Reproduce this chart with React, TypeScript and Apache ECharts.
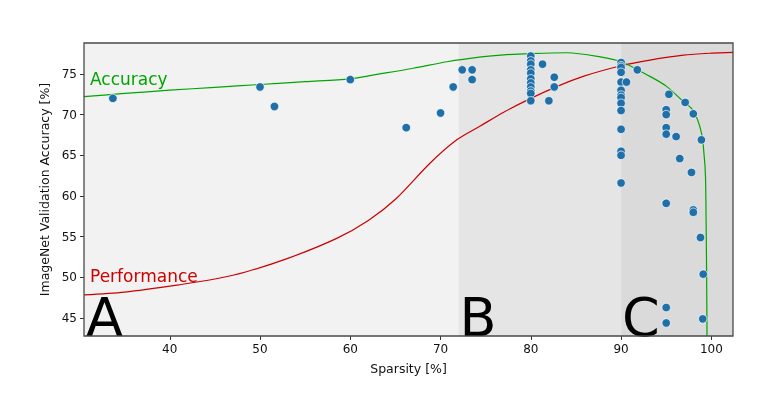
import React, { useEffect, useRef } from "react";
import * as echarts from "echarts";

const X_MIN = 30.5;
const X_MAX = 102.4;
const Y_MIN = 42.8;
const Y_MAX = 78.8;
const xTicks = [40, 50, 60, 70, 80, 90, 100];
const yTicks = [45, 50, 55, 60, 65, 70, 75];

const regionBounds = [30.5, 72, 90, 102.4];
const regionNames = ["A", "B", "C"];
const regionColors = ["#f2f2f2", "#e5e5e5", "#dadada"];

const pointX = [
  33.7, 50.0, 51.6, 60.0, 66.2, 70.0, 71.4, 72.4, 73.5, 73.5,
  80, 80, 80, 80, 80, 80, 80, 80, 80, 80, 80,
  81.3, 82.6, 82.6, 82.0,
  90, 90, 90, 90, 90, 90, 90, 90, 90, 90, 90, 90, 90, 90,
  90.6, 91.8, 95.3,
  95, 95, 95, 95, 95, 95, 95,
  96.1, 97.1, 98.0, 98.9, 96.5, 97.8, 98.0, 98.0, 98.8, 99.1, 99.05,
];
const pointY = [
  72.0, 73.4, 71.0, 74.3, 68.4, 70.2, 73.4, 75.5, 75.5, 74.3,
  77.2, 76.6, 76.2, 75.5, 75.1, 74.4, 73.9, 73.4, 72.9, 72.6, 71.7,
  76.2, 74.6, 73.4, 71.7,
  76.4, 76.0, 75.8, 75.2, 74.0, 73.0, 72.4, 72.1, 71.4, 70.5, 68.2, 65.5, 65.0, 61.6,
  74.0, 75.5, 72.5,
  70.6, 70.0, 68.4, 67.6, 59.1, 46.3, 44.4,
  67.3, 71.5, 70.1, 66.9, 64.6, 62.9, 58.3, 58.0, 54.9, 50.4, 44.9,
];

const accCurveX = [30.5, 35, 40, 45, 50, 55, 60, 63.3, 67, 70.7, 74.5, 77, 80, 84, 87.7, 90, 93.2, 95, 96.9, 98.0, 98.9, 99.2, 99.35, 99.42, 99.48, 99.52];
const accCurveY = [72.2, 72.6, 73.0, 73.35, 73.7, 74.05, 74.4, 75.0, 75.7, 76.5, 77.1, 77.35, 77.5, 77.6, 77.1, 76.5, 74.7, 73.5, 71.6, 70.5, 67.8, 65.0, 62.5, 57.0, 50.0, 42.8];

const perfCurveX = [30.5, 35, 41.1, 45, 48.5, 53, 58.5, 62, 65.1, 68.8, 71.8, 74.4, 77, 80, 83, 85.8, 90, 93.2, 96.9, 100, 102.4];
const perfCurveY = [47.85, 48.2, 49.1, 49.8, 50.7, 52.3, 54.8, 57.0, 59.7, 64.0, 66.9, 68.6, 70.3, 72.0, 73.5, 74.7, 76.0, 76.7, 77.3, 77.55, 77.65];

const FONT = "DejaVu Sans";

export default function App() {
  const ref = useRef<HTMLDivElement>(null);
  useEffect(() => {
    document.body.style.margin = "0";
    const chart = echarts.init(ref.current!, null, { renderer: "svg" });
    const gridL = 84, gridT = 43, gridW = 649, gridH = 293;
    const points = pointX.map((x, i) => [x, pointY[i]]);
    const acc = accCurveX.map((x, i) => [x, accCurveY[i]]);
    const perf = perfCurveX.map((x, i) => [x, perfCurveY[i]]);
    const areas = regionNames.map((n, i) => [
      { xAxis: regionBounds[i], itemStyle: { color: regionColors[i] } },
      { xAxis: regionBounds[i + 1] },
    ]);
    const xToPx = (v: number) => gridL + ((v - X_MIN) / (X_MAX - X_MIN)) * gridW;
    chart.setOption({
      animation: false,
      textStyle: { fontFamily: FONT },
      grid: { left: gridL, top: gridT, width: gridW, height: gridH },
      xAxis: {
        type: "value",
        min: X_MIN,
        max: X_MAX,
        name: "Sparsity [%]",
        nameLocation: "middle",
        nameGap: 26,
        nameTextStyle: { fontFamily: FONT, fontSize: 12.5, color: "#111" },
        axisLine: { show: false },
        splitLine: { show: false },
        axisTick: { show: true, customValues: xTicks, length: 4, lineStyle: { color: "#333" } },
        axisLabel: { customValues: xTicks, fontFamily: FONT, fontSize: 12, color: "#111", margin: 7 },
      },
      yAxis: {
        type: "value",
        min: Y_MIN,
        max: Y_MAX,
        name: "ImageNet Validation Accuracy [%]",
        nameLocation: "middle",
        nameGap: 31,
        nameTextStyle: { fontFamily: FONT, fontSize: 12.5, color: "#111" },
        axisLine: { show: false },
        splitLine: { show: false },
        axisTick: { show: true, customValues: yTicks, length: 4, lineStyle: { color: "#333" } },
        axisLabel: { customValues: yTicks, fontFamily: FONT, fontSize: 12, color: "#111", margin: 7 },
      },
      series: [
        {
          type: "line",
          data: [],
          silent: true,
          markArea: { silent: true, data: areas },
          z: 0,
        },
        {
          type: "line",
          data: perf,
          showSymbol: false,
          smooth: 0.3,
          lineStyle: { color: "#cc0000", width: 1.2 },
          z: 2,
        },
        {
          type: "line",
          data: acc,
          showSymbol: false,
          smooth: 0.3,
          lineStyle: { color: "#00a600", width: 1.2 },
          z: 2,
        },
        {
          type: "scatter",
          data: points,
          symbolSize: 8.5,
          itemStyle: { color: "#1f6fa8", borderColor: "#ffffff", borderWidth: 0.7, opacity: 1 },
          z: 3,
        },
      ],
      graphic: [
        {
          type: "rect",
          shape: { x: gridL, y: gridT, width: gridW, height: gridH },
          style: { fill: "none", stroke: "#4a4a4a", lineWidth: 1.3 },
          z: 100,
          silent: true,
        },
        {
          type: "text",
          x: 90,
          y: 79,
          style: { text: "Accuracy", fill: "#00a600", font: `17px '${FONT}'`, verticalAlign: "middle" },
          z: 50,
        },
        {
          type: "text",
          x: 90,
          y: 276,
          style: { text: "Performance", fill: "#cc0000", font: `17px '${FONT}'`, verticalAlign: "middle" },
          z: 50,
        },
        ...regionNames.map((n, i) => ({
          type: "text",
          x: xToPx(regionBounds[i]) + (i === 0 ? 2 : 1),
          y: 317,
          style: { text: n, fill: "#000", font: `54px '${FONT}'`, verticalAlign: "middle" },
          z: 50,
        })),
      ],
    });
    return () => chart.dispose();
  }, []);
  return <div ref={ref} style={{ position: "fixed", left: 0, top: 0, width: 761, height: 393 }} />;
}
